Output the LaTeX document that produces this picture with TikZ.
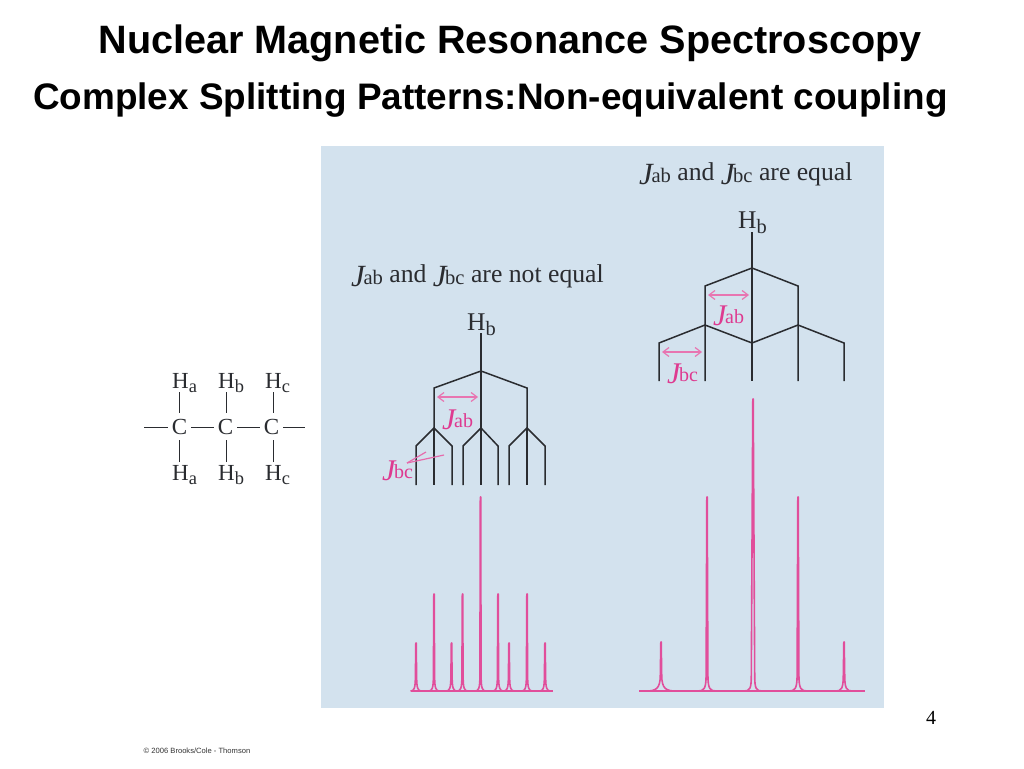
\documentclass[tikz,border=0pt]{standalone}
\usepackage{fontspec}
\setmainfont{Liberation Serif}
\newfontfamily\headfont{Liberation Sans}
\usetikzlibrary{arrows.meta}
\definecolor{panelblue}{HTML}{D3E2EE}
\definecolor{nmrpink}{HTML}{DE3A90}
\definecolor{inkdark}{HTML}{2A2C30}
\newcommand{\lsub}[2]{\raisebox{#1}{\fontsize{0.8em}{0.8em}\selectfont #2}}
\newcommand{\Jsym}[1]{\raisebox{-0.17em}{\fontsize{1.2em}{1.2em}\selectfont\textit{J}}\kern-0.1em\lsub{-0.1em}{#1}}
\newcommand{\Hsym}[1]{H\lsub{-0.2em}{#1}}
\tikzset{
  x=1pt,y=-1pt,
  head/.style={font=\headfont\bfseries\fontsize{36}{36}\selectfont,text=black,inner sep=0pt},
  caption/.style={font=\fontsize{25.7}{28}\selectfont,text=inkdark,inner sep=0pt,anchor=base west},
  atom/.style={font=\fontsize{25.5}{28}\selectfont,text=inkdark,inner sep=0pt,anchor=base west},
  molH/.style={font=\fontsize{23}{24}\selectfont,text=inkdark,inner sep=0pt,anchor=base west},
  molC/.style={font=\fontsize{23}{24}\selectfont,text=inkdark,inner sep=0pt,minimum width=23pt,anchor=base},
  pinklabel/.style={font=\fontsize{25}{28}\selectfont,text=nmrpink,inner sep=0pt,anchor=base west},
  tree/.style={draw=inkdark,line width=1.5pt,line cap=butt,line join=miter},
  bond/.style={draw=inkdark,line width=1pt},
  jarrow/.style={draw=nmrpink!70!white,line width=1.2pt,{Straight Barb[length=6pt,width=9pt]}-{Straight Barb[length=6pt,width=9pt]}},
  jline/.style={draw=nmrpink!75!white,line width=1.2pt},
  peak/.style={draw=nmrpink!90!white,line width=1.6pt,line join=round},
}
% \peakat{x}{top}{base}{half width of the foot}{half width of the neck}
\newcommand{\peakat}[5]{%
  \draw[peak] (#1-#4,#3) .. controls (#1-0.35*#4,#3) and (#1-#5,#3-2) .. (#1-#5,#3-16)
     -- (#1-0.2,#2) -- (#1+0.2,#2) -- (#1+#5,#3-16) .. controls (#1+#5,#3-2) and (#1+0.35*#4,#3) .. (#1+#4,#3);}
\begin{document}
\begin{tikzpicture}
\useasboundingbox (0,0) rectangle (1024,768);
\fill[white] (0,0) rectangle (1024,768);
\fill[panelblue] (321,146) rectangle (884,708);

\node[head,font=\headfont\bfseries\fontsize{39.6}{40}\selectfont] (title) at (510,43) {Nuclear Magnetic Resonance Spectroscopy};
\node[head,anchor=west,font=\headfont\bfseries\fontsize{36.9}{38}\selectfont] (subtitle) at (33,100.5) {Complex Splitting Patterns:Non-equivalent coupling};
\node[font=\fontsize{20}{20}\selectfont,inner sep=0pt] (pageno) at (931,718) {4};
\node[font=\headfont\fontsize{7.6}{8}\selectfont,text=black!80,inner sep=0pt] (copy) at (197,751) {© 2006 Brooks/Cole - Thomson};

% molecule
\node[molC] (C1) at (179.5,434) {C};
\node[molC] (C2) at (225.5,434) {C};
\node[molC] (C3) at (271.5,434) {C};
\node[molH] (Ha1) at (172,388) {\Hsym{a}};
\node[molH] (Hb1) at (218,388) {\Hsym{b}};
\node[molH] (Hc1) at (265,388) {\Hsym{c}};
\node[molH] (Ha2) at (172,480) {\Hsym{a}};
\node[molH] (Hb2) at (218,480) {\Hsym{b}};
\node[molH] (Hc2) at (265,480) {\Hsym{c}};
\coordinate (L) at (144,427);
\coordinate (R) at (305,427);
\draw[bond] (L) -- (L -| C1.west);
\draw[bond] (L -| C1.east) -- (L -| C2.west);
\draw[bond] (L -| C2.east) -- (L -| C3.west);
\draw[bond] (L -| C3.east) -- (R);
\foreach \n/\xx in {1/179,2/226,3/273}{
  \coordinate (T\n) at (\xx,392);
  \coordinate (TE\n) at (\xx,413);
  \coordinate (B\n) at (\xx,462);
  \coordinate (BE\n) at (\xx,440);
  \draw[bond] (T\n) -- (TE\n);
  \draw[bond] (B\n) -- (BE\n);
}

% left tree
\node[caption] (capL) at (351,282) {\Jsym{ab} and \Jsym{bc} are not equal};
\node[atom] (HbL) at (467,330) {\Hsym{b}};
\coordinate (LT) at (481,333);
\coordinate (L0) at (481,371);
\coordinate (L1) at (434,388);
\coordinate (L2) at (527,388);
\coordinate (La) at (434,428);
\coordinate (Lb) at (481,428);
\coordinate (Lc) at (527,428);
\draw[tree] (LT) -- (L0) -- (Lb) -- (481,485);
\draw[tree] (La) -- (L1) -- (L0) -- (L2) -- (Lc);
\foreach \c/\d/\e/\n in {416/434/452/a,463/481/498/b,509/527/545/c}{
  \draw[tree] (\c,485) -- (\c,446) -- (\d,428) -- (\e,446) -- (\e,485);
  \draw[tree] (\d,428) -- (\d,485);
}
\draw[jarrow] (437,397) -- (478,397);
\node[pinklabel] (JabL) at (442,425) {\Jsym{ab}};
\node[pinklabel] (JbcL) at (382,476) {\Jsym{bc}};
\coordinate (Jt) at (407,463);
\draw[jline] (Jt) -- (426,452);
\draw[jline] (Jt) -- (444,455);

% right tree
\node[caption] (capR) at (639,180) {\Jsym{ab} and \Jsym{bc} are equal};
\node[atom] (HbR) at (738,228) {\Hsym{b}};
\coordinate (RT) at (752,232);
\coordinate (R0) at (752,268);
\coordinate (R1) at (705,286);
\coordinate (R2) at (798,286);
\coordinate (Ra) at (705,325);
\coordinate (Rb) at (798,325);
\coordinate (Rm) at (752,343);
\coordinate (Re1) at (659,343);
\coordinate (Re2) at (844,343);
\draw[tree] (RT) -- (R0) -- (Rm) -- (752,381);
\draw[tree] (705,381) -- (Ra) -- (R1) -- (R0) -- (R2) -- (Rb) -- (798,381);
\draw[tree] (659,381) -- (Re1) -- (Ra) -- (Rm) -- (Rb) -- (Re2) -- (844,381);
\draw[jarrow] (708,295) -- (749,295);
\draw[jarrow] (662,352) -- (702,352);
\node[pinklabel] (JabR) at (713,321) {\Jsym{ab}};
\node[pinklabel] (JbcR) at (667,379) {\Jsym{bc}};

% left spectrum
\draw[peak] (411,691) -- (553,691);
\foreach \x/\t in {416/643,434/594,451.5/643,462.5/594,480.5/497,498/594,509/643,527/594,545/643}{
  \peakat{\x}{\t}{691}{5.5}{0.6}
}
% right spectrum
\draw[peak] (639,691) -- (865,691);
\peakat{661}{642}{691}{15}{0.7}
\peakat{707}{497}{691}{9}{0.9}
\peakat{753}{399}{691}{9}{1.7}
\peakat{798}{497}{691}{9}{0.9}
\peakat{844}{642}{691}{8}{0.7}
\end{tikzpicture}
\end{document}
